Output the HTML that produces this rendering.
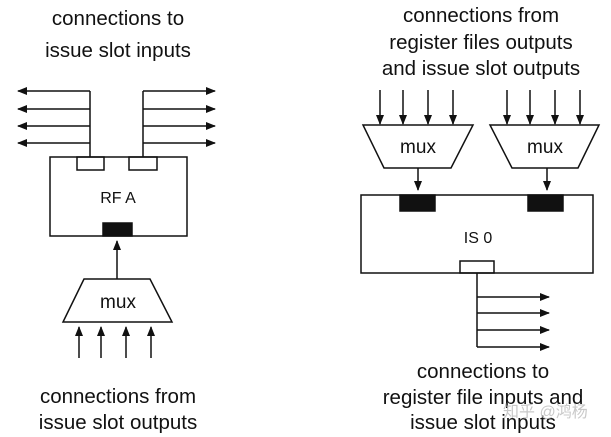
<!DOCTYPE html>
<html><head><style>body{margin:0;background:#fff}svg{display:block}text{font-family:"Liberation Sans","Noto Sans CJK SC",sans-serif;fill:#111}</style></head><body>
<svg width="611" height="437" viewBox="0 0 611 437" xmlns="http://www.w3.org/2000/svg">
<defs><marker id="a" markerWidth="10" markerHeight="8" refX="9" refY="4" orient="auto" markerUnits="userSpaceOnUse"><path d="M0,0 L10,4 L0,8 z" fill="#111"/></marker></defs>
<g stroke="#111" stroke-width="1.5" fill="none">
<rect x="50" y="157" width="137" height="79"/>
<rect x="77" y="157" width="27" height="13"/>
<rect x="129" y="157" width="28" height="13"/>
<rect x="103" y="223" width="29" height="13" fill="#111"/>
<line x1="90" y1="91" x2="90" y2="157"/>
<line x1="143" y1="91" x2="143" y2="157"/>
<line x1="90" y1="91" x2="18" y2="91" marker-end="url(#a)"/>
<line x1="90" y1="109" x2="18" y2="109" marker-end="url(#a)"/>
<line x1="90" y1="126" x2="18" y2="126" marker-end="url(#a)"/>
<line x1="90" y1="143" x2="18" y2="143" marker-end="url(#a)"/>
<line x1="143" y1="91" x2="215" y2="91" marker-end="url(#a)"/>
<line x1="143" y1="109" x2="215" y2="109" marker-end="url(#a)"/>
<line x1="143" y1="126" x2="215" y2="126" marker-end="url(#a)"/>
<line x1="143" y1="143" x2="215" y2="143" marker-end="url(#a)"/>
<line x1="117" y1="279" x2="117" y2="241" marker-end="url(#a)"/>
<path d="M84,279 L150,279 L172,322 L63,322 Z"/>
<line x1="79" y1="358" x2="79" y2="327" marker-end="url(#a)"/>
<line x1="101" y1="358" x2="101" y2="327" marker-end="url(#a)"/>
<line x1="126" y1="358" x2="126" y2="327" marker-end="url(#a)"/>
<line x1="151" y1="358" x2="151" y2="327" marker-end="url(#a)"/>
<path d="M363,125 L473,125 L451,168 L384,168 Z"/>
<path d="M490,125 L599,125 L578,168 L512,168 Z"/>
<line x1="380" y1="90" x2="380" y2="124" marker-end="url(#a)"/>
<line x1="403" y1="90" x2="403" y2="124" marker-end="url(#a)"/>
<line x1="428" y1="90" x2="428" y2="124" marker-end="url(#a)"/>
<line x1="453" y1="90" x2="453" y2="124" marker-end="url(#a)"/>
<line x1="507" y1="90" x2="507" y2="124" marker-end="url(#a)"/>
<line x1="530" y1="90" x2="530" y2="124" marker-end="url(#a)"/>
<line x1="555" y1="90" x2="555" y2="124" marker-end="url(#a)"/>
<line x1="580" y1="90" x2="580" y2="124" marker-end="url(#a)"/>
<line x1="418" y1="168" x2="418" y2="190" marker-end="url(#a)"/>
<line x1="547" y1="168" x2="547" y2="190" marker-end="url(#a)"/>
<rect x="361" y="195" width="232" height="78"/>
<rect x="400" y="195" width="35" height="16" fill="#111"/>
<rect x="528" y="195" width="35" height="16" fill="#111"/>
<rect x="460" y="261" width="34" height="12"/>
<line x1="477" y1="273" x2="477" y2="347"/>
<line x1="477" y1="297" x2="549" y2="297" marker-end="url(#a)"/>
<line x1="477" y1="313" x2="549" y2="313" marker-end="url(#a)"/>
<line x1="477" y1="330" x2="549" y2="330" marker-end="url(#a)"/>
<line x1="477" y1="347" x2="549" y2="347" marker-end="url(#a)"/>
</g>
<g font-size="20.5" text-anchor="middle">
<text x="118" y="25">connections to</text>
<text x="118" y="57">issue slot inputs</text>
<text x="118" y="403">connections from</text>
<text x="118" y="429">issue slot outputs</text>
<text x="481" y="22">connections from</text>
<text x="481" y="49">register files outputs</text>
<text x="481" y="75">and issue slot outputs</text>
<text x="483" y="378">connections to</text>
<text x="483" y="404">register file inputs and</text>
<text x="483" y="429">issue slot inputs</text>
<text x="118" y="308" font-size="19">mux</text>
<text x="418" y="153" font-size="19">mux</text>
<text x="545" y="153" font-size="19">mux</text>
<text x="118" y="203" font-size="16">RF A</text>
<text x="478" y="243" font-size="16">IS 0</text>
</g>
<text x="503" y="417" font-size="16" style="fill:#bbb;opacity:.8">知乎 @鸿杨</text>
</svg>
</body></html>
